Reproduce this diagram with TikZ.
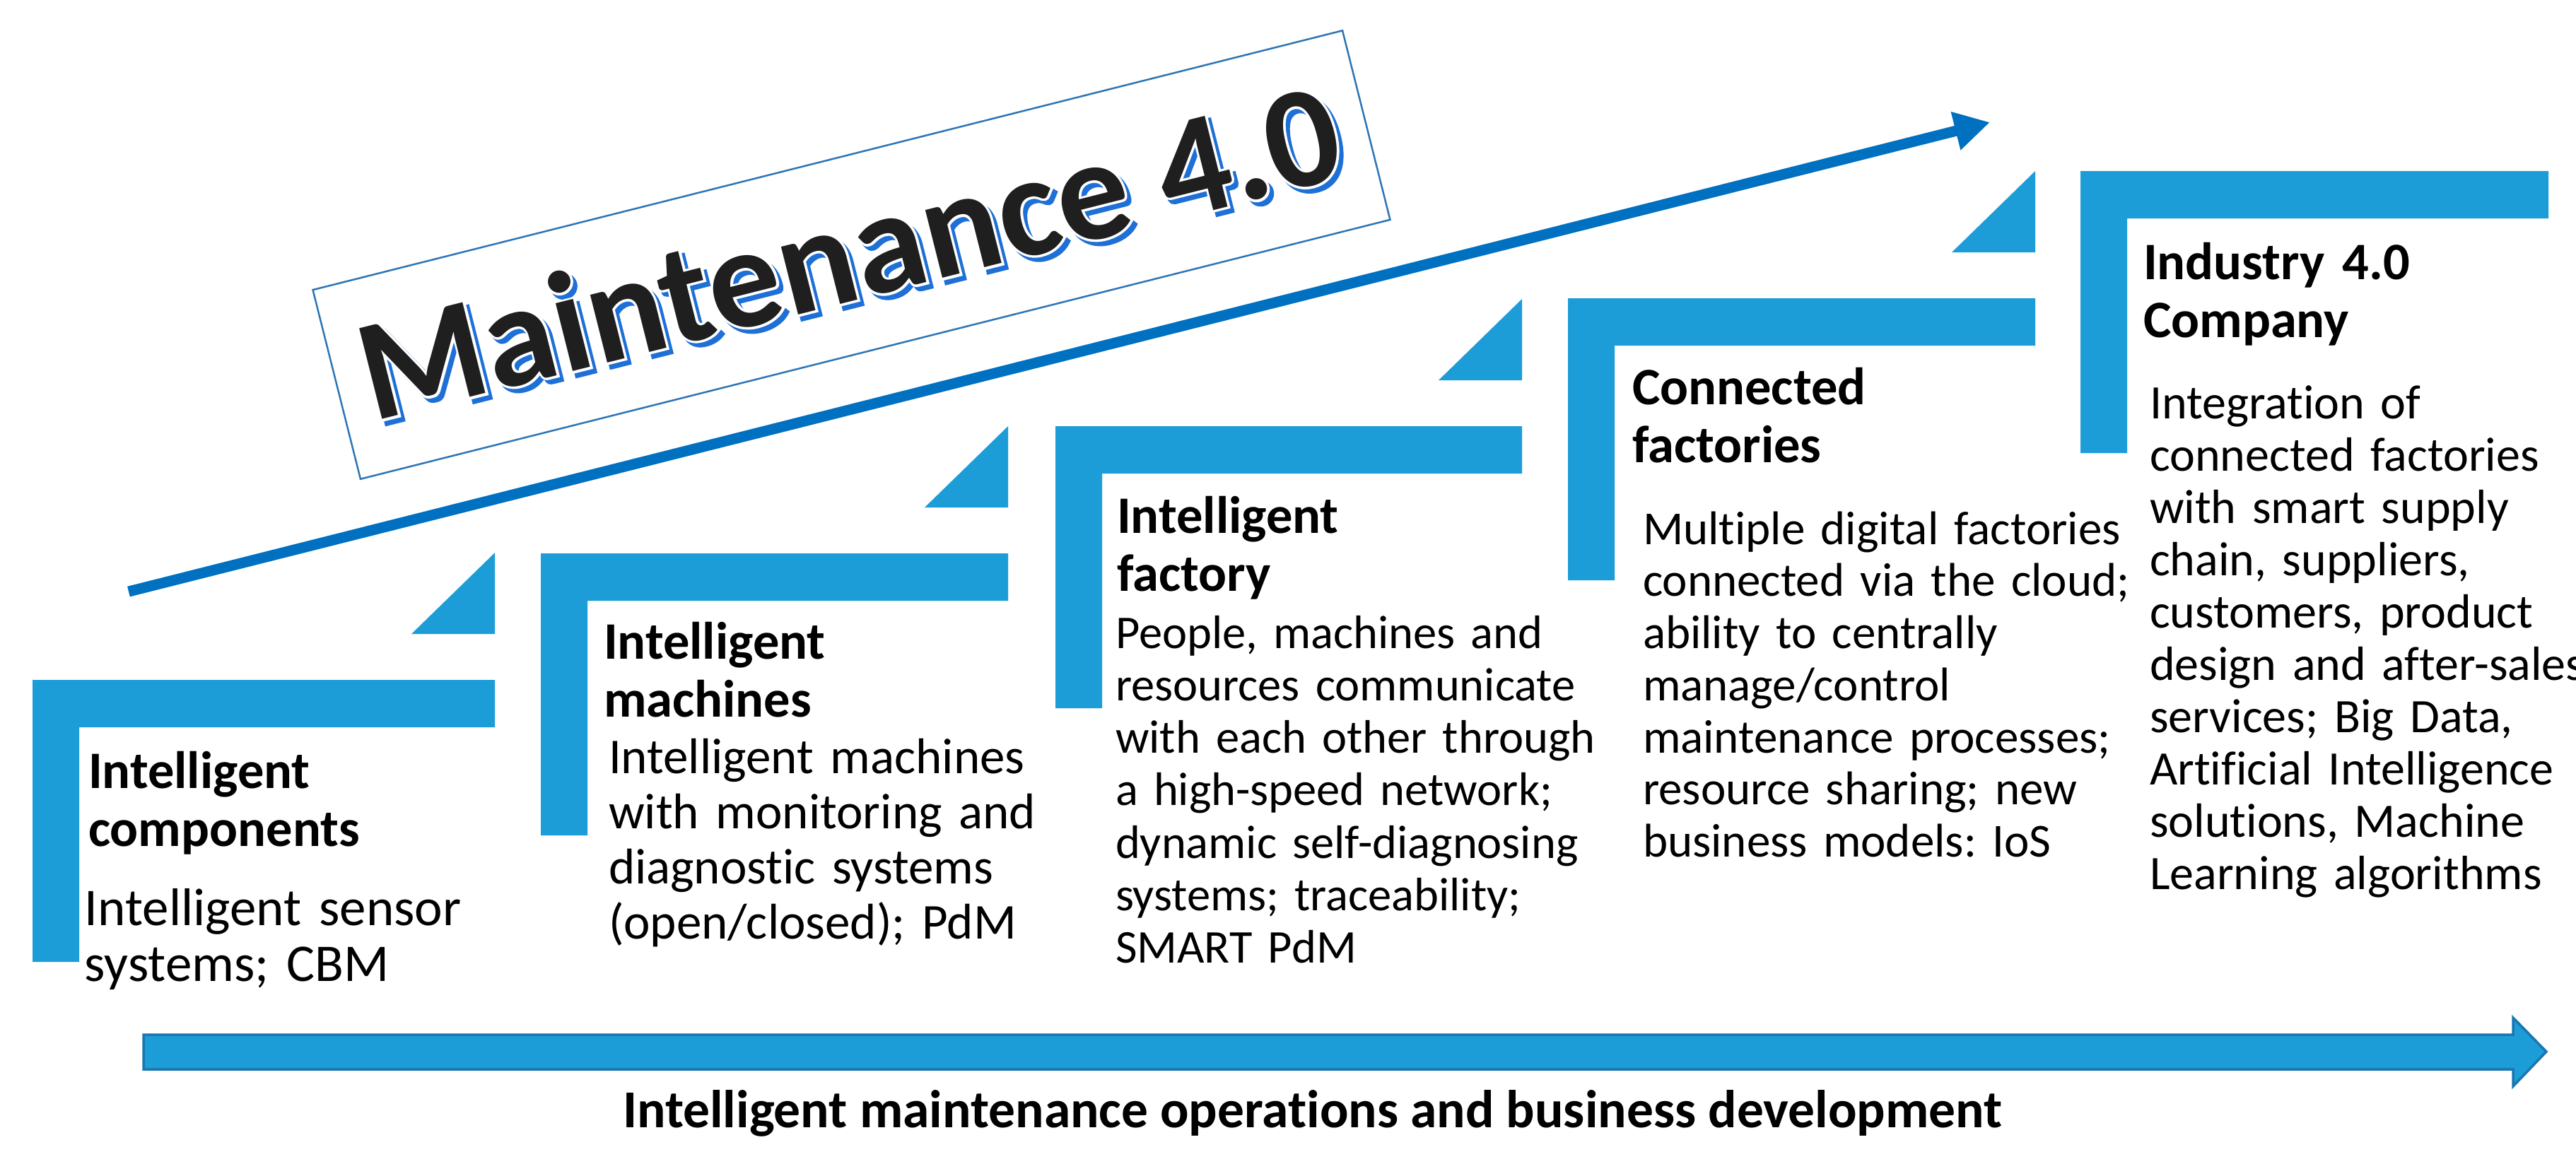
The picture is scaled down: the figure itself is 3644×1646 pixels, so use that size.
\documentclass[tikz,border=0pt]{standalone}
\usepackage{fontspec}
\setmainfont{Carlito}[Ligatures={NoCommon,NoRequired,NoContextual},RawFeature=-liga,RawFeature=-clig,RawFeature=-calt]
\newfontfamily\halofont{Carlito}[Ligatures={NoCommon,NoRequired,NoContextual},RawFeature=-liga,RawFeature=-clig,RawFeature=-calt,BoldFeatures={FakeBold=3.2}]
\usetikzlibrary{arrows.meta}
\definecolor{stepblue}{RGB}{28,157,215}
\definecolor{darkblue}{RGB}{0,112,192}
\definecolor{edgeblue}{RGB}{26,118,176}
\definecolor{boxblue}{RGB}{46,117,182}
\definecolor{shadowblue}{RGB}{30,112,215}
\frenchspacing
\begin{document}
\begin{tikzpicture}[x=0.2pt,y=-0.2pt,
  stepfill/.style={fill=stepblue,draw=none},
  headtxt/.style={anchor=base west,inner sep=0pt,text width=200pt,align=left,
    font=\bfseries\fontsize{14.9}{16.4}\selectfont},
  bodytxt/.style={anchor=base west,inner sep=0pt,text width=200pt,align=left,
    font=\fontsize{13.3}{14.8}\selectfont},
  titletxt/.style={anchor=base west,inner sep=0pt,rotate=14.14,
    font=\bfseries\fontsize{40.8}{44}\selectfont},
]
\useasboundingbox (0,0) rectangle (3644,1646);
\clip (0,0) rectangle (3644,1646);
\fill[white] (0,0) rectangle (3644,1646);

% ---- steps (L shapes) ----
\foreach \L/\T/\R in {46/962/700, 765/783/1426, 1493/603/2153, 2218/422/2879, 2943/242/3605}{
  \fill[stepfill] (\L,\T) -- (\R,\T) -- (\R,\T+67) -- (\L+66,\T+67) -- (\L+66,\T+399) -- (\L,\T+399) -- cycle;
}
% ---- triangles ----
\foreach \T/\R in {962/700, 783/1426, 603/2153, 422/2879}{
  \fill[stepfill] (\R-118,\T-65) -- (\R,\T-65) -- (\R,\T-180) -- cycle;
}

% ---- title box ----
\node[draw=boxblue,line width=0.5pt,minimum width=300.4pt,minimum height=55.2pt,
      inner sep=0pt,rotate=14.14] (titlebox) at (1204.5,360.5) {};
\node[titletxt,text=shadowblue,font=\halofont\bfseries\fontsize{40.8}{44}\selectfont] (tshadow) at (533,603) {Maintenance 4.0};
\node[titletxt,text=white,font=\halofont\bfseries\fontsize{40.8}{44}\selectfont] (thalo) at (527,597) {Maintenance 4.0};
\node[titletxt,text=black!88] (title) at (527,597) {Maintenance 4.0};

% ---- rising arrow ----
\coordinate (riseA) at (182,837);
\coordinate (riseB) at (2815,173);
\draw[darkblue,line width=3pt,-{Triangle[length=10pt,width=10.5pt]}] (riseA) -- (riseB);

% ---- bottom arrow ----
\fill[stepblue,draw=edgeblue,line width=0.7pt]
  (203,1464) -- (3555,1464) -- (3555,1440) -- (3602,1488) -- (3555,1537) -- (3555,1513) -- (203,1513) -- cycle;
\node[anchor=base west,inner sep=0pt,font=\bfseries\fontsize{15.1}{18}\selectfont] (caption) at (880,1595)
  {Intelligent maintenance operations and business development};

% ---- step texts ----
\node[headtxt] (h1) at (124,1115) {Intelligent\\components};
\node[bodytxt,font=\fontsize{15.0}{15.9}\selectfont] (b1) at (119,1309) {Intelligent sensor\\systems; CBM};

\node[headtxt] (h2) at (853,932) {Intelligent\\machines};
\node[bodytxt,font=\fontsize{14.2}{15.6}\selectfont] (b2) at (860,1094) {Intelligent machines\\with monitoring and\\diagnostic systems\\(open/closed); PdM};

\node[headtxt] (h3) at (1579,754) {Intelligent\\factory};
\node[bodytxt,font=\fontsize{13.3}{14.85}\selectfont] (b3) at (1577,917) {People, machines and\\resources communicate\\with each other through\\a high-speed network;\\dynamic self-diagnosing\\systems; traceability;\\SMART PdM};

\node[headtxt] (h4) at (2308,572) {Connected\\factories};
\node[bodytxt,font=\fontsize{13.4}{14.75}\selectfont] (b4) at (2323,770) {Multiple digital factories\\connected via the cloud;\\ability to centrally\\manage/control\\maintenance processes;\\resource sharing; new\\business models: IoS};

\node[headtxt] (h5) at (3031,395) {Industry 4.0\\Company};
\node[bodytxt,font=\fontsize{13.6}{14.8}\selectfont] (b5) at (3040,592) {Integration of\\connected factories\\with smart supply\\chain, suppliers,\\customers, product\\design and after-sales\\services; Big Data,\\Artificial Intelligence\\solutions, Machine\\Learning algorithms};
\end{tikzpicture}
\end{document}
